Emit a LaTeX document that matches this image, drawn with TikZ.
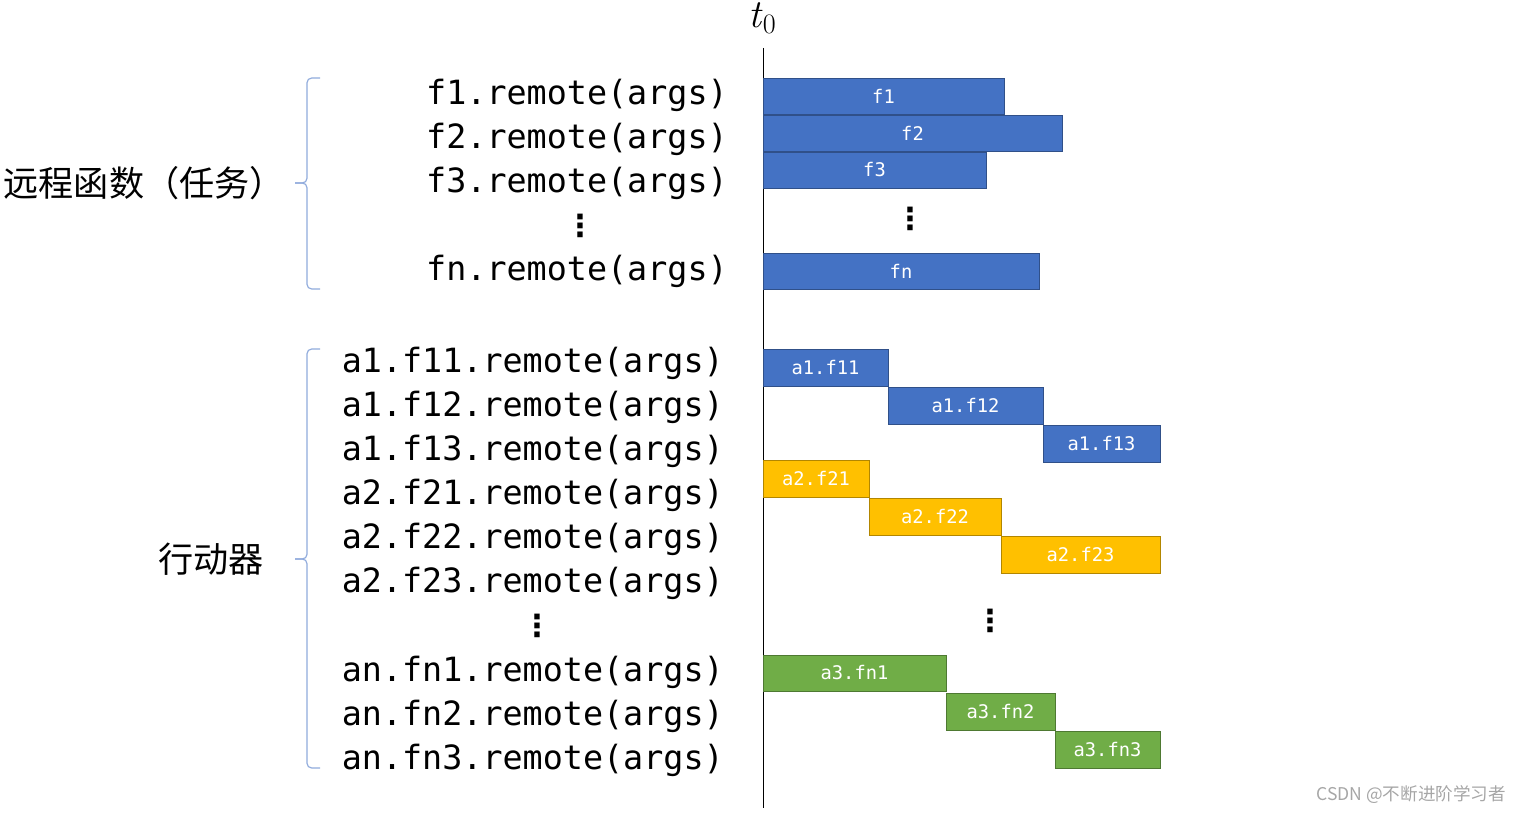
\documentclass[tikz,border=0pt]{standalone}
\usepackage{fontspec}
\setmonofont{DejaVu Sans Mono}
\newfontfamily\cjk{Noto Sans CJK SC}
\newfontfamily\dotsfont{DejaVu Sans}
\usetikzlibrary{positioning}
\definecolor{barblue}{HTML}{4472C4}
\definecolor{barorange}{HTML}{FFC000}
\definecolor{bargreen}{HTML}{70AD47}
\definecolor{bracecol}{HTML}{8FAADC}
\tikzset{
  bar/.style={draw=#1!70!black, fill=#1, text=white, anchor=north west,
    inner sep=0pt, outer sep=0pt, font=\ttfamily\fontsize{16}{16}\selectfont},
  call/.style={anchor=east, inner sep=0pt, font=\ttfamily\fontsize{28.5}{28.5}\selectfont},
  group/.style={anchor=east, inner sep=0pt, font=\cjk\fontsize{30}{30}\selectfont},
  vdots/.style={inner sep=0pt, font=\dotsfont\bfseries\fontsize{26}{26}\selectfont},
  brace/.style={draw=bracecol, line width=1pt, rounded corners=4pt}
}
\begin{document}
\begin{tikzpicture}[x=0.03cm, y=-0.03cm]
  \useasboundingbox (0,0) rectangle (1526,814);

  % time axis
  \coordinate (top) at (763,48);
  \coordinate (bottom) at (763,808);
  \draw[line width=0.8pt] (top) -- (bottom);
  \node[font=\fontsize{34}{34}\selectfont] (t0) at (762,18)
    {\itshape t\/\upshape\raisebox{-0.35ex}{\fontsize{24}{24}\selectfont 0}};

  % remote functions
  \node[call] (c1) at (728,95) {f1.remote(args)};
  \node[call] (c2) at (728,139) {f2.remote(args)};
  \node[call] (c3) at (728,183) {f3.remote(args)};
  \node[vdots] (cd) at (580,226) {⋮};
  \node[call] (cn) at (728,271) {fn.remote(args)};

  % actors
  \foreach \name/\txt/\y in {a11/a1.f11/363, a12/a1.f12/407, a13/a1.f13/451,
      a21/a2.f21/495, a22/a2.f22/539, a23/a2.f23/583,
      an1/an.fn1/672, an2/an.fn2/716, an3/an.fn3/760}
    \node[call] (\name) at (724,\y) {\txt.remote(args)};
  \node[vdots] (ad) at (537,626) {⋮};

  % braces
  \draw[brace] (320,78) -- (307,78) -- (307,183) -- (295,183);
  \draw[brace] (295,183) -- (307,183) -- (307,289) -- (320,289);
  \draw[brace] (320,349) -- (307,349) -- (307,559) -- (295,559);
  \draw[brace] (295,559) -- (307,559) -- (307,768) -- (320,768);
  \node[group] (g1) at (285,183) {远程函数（任务）};
  \node[group] (g2) at (264,559) {行动器};

  % bars
  \foreach \name/\a/\b/\y/\h/\col in {f1/763/1004/78/36/barblue, f2/763/1062/115/36/barblue,
      f3/763/986/152/36/barblue, fn/763/1039/253/36/barblue,
      a1.f11/763/888/349/37/barblue, a1.f12/888/1043/387/37/barblue, a1.f13/1043/1160/425/37/barblue,
      a2.f21/763/869/460/37/barorange, a2.f22/869/1001/498/37/barorange, a2.f23/1001/1160/536/37/barorange,
      a3.fn1/763/946/655/36/bargreen, a3.fn2/946/1055/693/37/bargreen, a3.fn3/1055/1160/731/37/bargreen}
    \node[bar=\col, minimum width={(\b-\a)*0.03cm}, minimum height={\h*0.03cm}]
      (b-\name) at (\a,\y) {\name};
  \node[vdots] (bd1) at (910,219) {⋮};
  \node[vdots] (bd2) at (990,621) {⋮};

  \node[anchor=east, text=gray!70, font=\cjk\fontsize{15}{15}\selectfont] (mark) at (1510,795) {CSDN @不断进阶学习者};
\end{tikzpicture}
\end{document}
